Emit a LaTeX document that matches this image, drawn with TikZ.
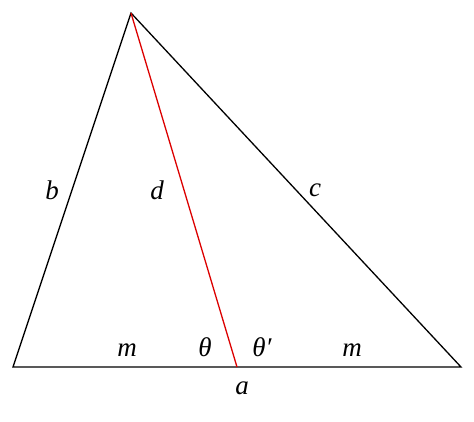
\documentclass[tikz,border=0pt]{standalone}
\usepackage{fontspec}
\setmainfont{Liberation Serif}

\tikzset{every picture/.style={line width=1.3pt}}
\tikzset{lbl/.style={inner sep=0.75pt,font=\fontsize{27}{31}\selectfont\itshape}}

\begin{document}
\begin{tikzpicture}[x=1pt,y=1pt,yscale=-1,xscale=1]
\useasboundingbox (0,0) rectangle (474,421);

%Vertices
\coordinate (A) at (131,13);
\coordinate (B) at (13,367);
\coordinate (C) at (461,367);
\coordinate (D) at (237,367);

%Shape: Triangle
\draw  (A) -- (B) -- (C) -- cycle ;
%Straight Lines
\draw [color={rgb, 255:red, 220; green, 0; blue, 0 }  ,draw opacity=1 ]   (A) -- (D) ;

% Text Node
\node [lbl] (lb) at (52,190) {b};
% Text Node
\node [lbl] (ld) at (157,190) {d};
% Text Node
\node [lbl] (lc) at (315,190) {c};
% Text Node
\node [lbl] (lm1) at (127,350) {m};
% Text Node
\node [lbl] (lt) at (205,347) {θ};
% Text Node
\node [lbl] (ltp) at (262,347) {θ′};
% Text Node
\node [lbl] (lm2) at (352,350) {m};
% Text Node
\node [lbl] (la) at (242,388) {a};

\end{tikzpicture}
\end{document}
